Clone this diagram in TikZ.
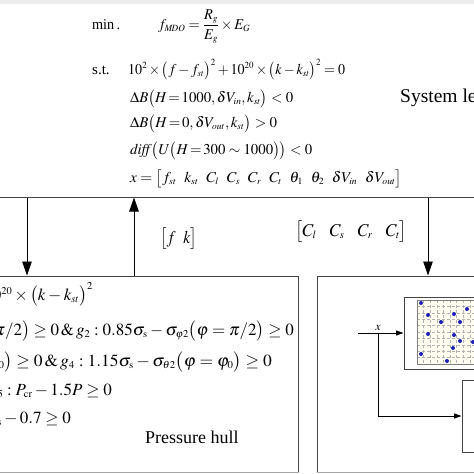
\documentclass[tikz,border=0pt]{standalone}
\usepackage{amsmath}
\usepackage{graphicx}
\usepackage{mathptmx}
\usepackage[no-math]{fontspec}
\setmainfont{Liberation Serif}
\usetikzlibrary{arrows.meta,fit,positioning}
\DeclareMathSizes{15}{15}{9.5}{7}
\DeclareMathSizes{17}{17}{10.5}{8}
\DeclareMathSizes{18}{18}{11}{8}
\definecolor{linegray}{HTML}{444444}
\definecolor{dotblue}{HTML}{1E1EB4}
\newcommand\eqsize{\fontsize{15}{18}\selectfont}
\newcommand\hullsize{\fontsize{17}{20}\selectfont}
\newcommand\lblsize{\fontsize{18}{21}\selectfont}
\newcommand\wordsize{\fontsize{18}{21}\selectfont}
\newcommand\syssize{\fontsize{19.5}{23}\selectfont}
\newcommand\fitw[2]{\resizebox{#1}{\height}{#2}}
\tikzset{
  frame/.style={draw=linegray, line width=1pt, inner sep=0pt},
  conn/.style={line width=0.9pt, -{Triangle[length=14pt,width=9.5pt]}},
  smallconn/.style={line width=0.8pt, -{Triangle[length=7.5pt,width=5pt]}},
  eq/.style={inner sep=0pt, anchor=mid west, font=\eqsize},
  eqr/.style={inner sep=0pt, anchor=mid east, font=\hullsize},
  lbl/.style={inner sep=0pt, anchor=mid west, font=\lblsize},
  word/.style={inner sep=0pt, anchor=mid west, font=\wordsize},
  dot/.style={circle, fill=dotblue, inner sep=0pt, minimum size=4pt},
  gridline/.style={gray!60, densely dashed, line width=0.4pt},
}
\begin{document}
\begin{tikzpicture}[x=1pt,y=-1pt]
\useasboundingbox (0,0) rectangle (474,474);
\clip (0,0) rectangle (474,474);
\fill[gray!14] (0,0) rectangle (474,4);
% frames
\node[frame, fit={(-20,-20)(494,197)}] (sys) {};
\node[frame, fit={(-20,276)(298,472)}] (hull) {};
\node[frame, fit={(317,276)(494,472)}] (rbox) {};
\draw[gray!70, line width=1.6pt] (hull.south west) -- (hull.south east);
\draw[gray!70, line width=1.6pt] (rbox.south west) -- (rbox.south east);
% system level text
\node[eq] (mn) at (92,27) {\fitw{28pt}{min\,.}};
\node[eq] (obj) at (158,27) {\fitw{92pt}{$f_{M\!DO}=\dfrac{R_g}{E_g}\times E_G$}};
\node[eq] (st) at (92,72) {s.t.};
\node[eq] (c1) at (128,72) {\fitw{217pt}{$10^2\times\bigl(f-f_{st}\bigr)^2+10^{20}\times\bigl(k-k_{st}\bigr)^2=0$}};
\node[eq] (c2) at (130,100) {\fitw{163pt}{$\Delta B\bigl(H\mathrel{\!=\!}1000,\delta V_{in},k_{st}\bigr)<0$}};
\node[eq] (c3) at (130,125) {\fitw{147pt}{$\Delta B\bigl(H\mathrel{\!=\!}0,\delta V_{out},k_{st}\bigr)>0$}};
\node[eq] (c4) at (130,152) {\fitw{182pt}{$\mathit{diff}\bigl(U\bigl(H\mathrel{\!=\!}300\sim1000\bigr)\bigr)<0$}};
\node[eq] (c5) at (130,180) {\fitw{272pt}{$x=\bigl[f_{st}\ \ k_{st}\ \ C_l\ \ C_s\ \ C_r\ \ C_t\ \ \theta_1\ \ \theta_2\ \ \delta V_{in}\ \ \delta V_{out}\bigr]$}};
\node[word, font=\syssize] (syslbl) at (400,100) {System level};
% connectors between levels
\coordinate (xa) at (27,0);
\coordinate (xb) at (134,0);
\coordinate (xc) at (428,0);
\draw[conn] (sys.south -| xa) -- (hull.north -| xa);
\draw[conn] (hull.north -| xb) -- (sys.south -| xb);
\draw[conn] (sys.south -| xc) -- (rbox.north -| xc);
\node[lbl] (fk) at (160,241) {\fitw{37pt}{$\bigl[f\ \ k\bigr]$}};
\node[lbl] (cc) at (295,234) {\fitw{112pt}{$\bigl[C_l\ \ \ C_s\ \ \ C_r\ \ \ C_t\bigr]$}};
% pressure hull text
\node[eqr] (h1) at (93,298) {$h:10^2\times\bigl(f-f_{st}\bigr)^2+10^{20}\times\bigl(k-k_{st}\bigr)^2$};
\node[eqr] (h2) at (294,333) {$g_1:0.85\sigma_{\mathrm s}-\sigma_{\theta2}\bigl(\varphi=\pi/2\bigr)\ge0\,\&\,g_2:0.85\sigma_{\mathrm s}-\sigma_{\varphi2}\bigl(\varphi=\pi/2\bigr)\ge0$};
\node[eqr] (h3) at (272,364) {\scalebox{1.03}[1]{$g_3:1.15\sigma_{\mathrm s}-\sigma_{\varphi2}\bigl(\varphi=\varphi_0\bigr)\ge0\,\&\,g_4:1.15\sigma_{\mathrm s}-\sigma_{\theta2}\bigl(\varphi=\varphi_0\bigr)\ge0$}};
\node[eqr] (h4) at (112,393) {$g_5:P_{\mathrm{cr}}-1.5P\ge0$};
\node[eqr] (h5) at (71,421) {$g_6:\delta_{\mathrm s}-0.7\ge0$};
\node[word] (hulllbl) at (145,441) {Pressure hull};
% right box interior
\node[frame, fill=white, fit={(404,297)(494,369)}] (gbox) {};
\node[frame, fit={(462,380)(494,452)}] (sbox) {};
\fill[yellow!6] (417,300) rectangle (494,364);
\foreach \i in {0,...,12} \draw[gridline] (417+\i*6.6,300) -- (417+\i*6.6,364);
\foreach \j in {0,...,10} \draw[gridline] (417,300+\j*6.4) -- (494,300+\j*6.4);
\draw[gray, line width=0.8pt] (494,300) -- (417,300) -- (417,364) -- (494,364);
\foreach \p in {(421,303),(467,309),(428,315),(454,314),(441,322),(460,322),(428,334),(454,335),(460,341),(473,342),(453,348),(421,354),(447,361)}
  \node[dot] at \p {};
\coordinate (xin) at (358,333);
\coordinate (jn) at (378,333);
\draw[smallconn] (xin) -- (gbox.west);
\draw[smallconn] (jn) |- (sbox.west);
\node[inner sep=0pt, font=\fontsize{12}{14}\selectfont, above=2pt of jn] (xlbl) {$x$};
\end{tikzpicture}
\end{document}
